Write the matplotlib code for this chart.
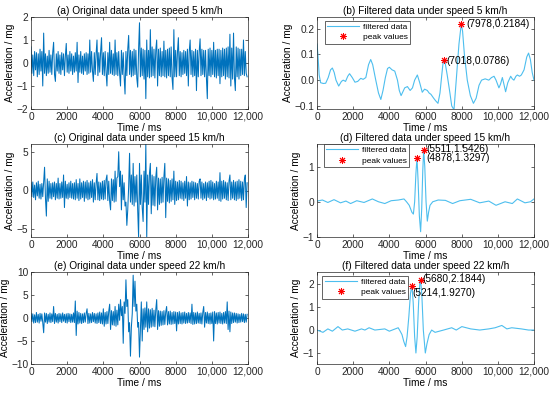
import matplotlib
matplotlib.use("Agg")
import matplotlib.pyplot as plt
import numpy as np

plt.rcParams["font.family"] = ["Liberation Sans", "DejaVu Sans"]
plt.rcParams["font.size"] = 7.3
plt.rcParams["axes.unicode_minus"] = True

# ---- raw signals, one value every 50 ms ----
raw_step_ms = 50

raw_5 = [
    0.7, -0.45, 0.35, -0.55, 0.5, -0.3, 0.45, -0.6, 0.4, -0.5, 0.6, -0.35, 0.5, -1.0, 1.3, -0.45,
    0.4, -0.55, 0.3, -0.45, 0.55, -0.4, 0.35, -0.5, 0.45, 0.9, -0.5, -0.8, 0.4, -0.35, 0.5, -0.45,
    0.35, -0.5, 0.45, -0.3, 0.4, -0.55, 0.3, 0.85, -0.4, 0.35, -0.45, 0.5, -0.35, 0.4, -0.5, 0.3,
    -0.4, 0.45, -0.35, 0.9, -0.85, 0.35, -0.4, 0.5, -0.45, 0.3, -0.5, 0.4, -0.35, 0.45, -0.5, 0.4,
    -0.45, 1.0, -0.4, 0.5, -0.35, -0.8, 0.45, -0.5, 0.4, 1.0, -0.55, 0.45, -0.4, 0.5, 1.1, -0.5,
    0.45, -0.55, 0.5, -0.4, -1.0, 0.45, -0.5, 0.9, -0.45, 0.55, -0.5, 0.4, -0.55, 1.0, -0.5, 0.45,
    -0.55, 0.5, -0.45, -1.0, 0.55, -0.5, 0.45, -0.6, -1.35, 0.5, -0.55, 0.6, 1.2, -0.5, 0.55, -0.6,
    0.5, -0.55, 0.6, -0.5, 0.55, -0.65, -1.05, 0.6, 1.75, -0.6, 0.65, -0.55, 0.6, -0.7, 0.55, -1.55,
    1.0, -0.6, 0.55, -0.65, 1.45, -0.6, 0.7, -0.55, 0.6, -0.65, 0.55, 1.0, -1.0, 0.6, -0.55, 0.65,
    -0.6, 0.5, -0.55, 0.95, -0.6, 0.55, -0.65, 0.6, -0.55, 0.65, -0.6, 0.7, -0.65, -1.15, 1.45, -0.6,
    0.55, -0.6, 0.5, 1.1, -0.55, 0.5, -0.6, 0.45, -0.5, 0.55, -0.45, 0.5, -0.55, 0.6, -1.0, 0.5,
    1.0, -0.5, 0.55, -0.6, 0.5, -0.55, 0.6, -1.2, 0.55, -0.6, 0.5, 1.05, -0.55, 0.6, -0.5, 0.55,
    -0.6, 0.55, -0.65, -1.55, 0.6, -0.55, 0.65, -0.6, 0.55, -0.5, 0.9, -0.6, 0.55, -0.65, 0.6, -0.55,
    0.6, -0.9, 0.55, -0.6, 0.65, -0.55, 0.6, -0.7, 0.65, -0.6, 0.7, -0.65, 1.25, -1.0, 0.65, -0.7,
    1.3, -0.65, -1.2, 0.7, -0.6, 0.65, -0.7, 0.6, -0.55, 0.6, -0.5, 1.0, -0.55, 0.5, -0.45, -0.6,
]

raw_15 = [
    1.0, -0.8, 1.1, -0.9, 0.7, -1.2, 1.0, -0.7, 1.2, -1.0, 0.8, -1.1, 0.9, -0.8, 1.1, 3.0,
    -1.0, -3.3, 1.5, -1.4, 1.2, -1.0, 0.9, -1.1, 1.0, -0.8, 1.1, -1.2, 0.9, -1.0, 1.6, -1.1,
    0.9, -1.0, 1.1, -0.9, 2.0, -2.2, 1.2, -1.0, 0.8, -1.1, 1.0, -0.9, 1.2, -1.0, 0.9, -1.1,
    1.0, -1.2, 1.4, -1.0, 0.9, -1.3, 1.5, -1.1, 1.0, -0.9, 1.2, -1.4, 1.1, -1.0, 1.3, -1.2,
    1.0, -1.1, 1.2, -0.9, 1.4, -1.5, 1.0, -1.2, 0.9, 2.2, -1.2, 1.1, -1.3, 1.0, -1.1, 1.2,
    -1.2, 1.3, -1.1, 1.4, 2.0, -1.3, 1.2, -1.4, -2.5, 1.5, -1.3, 1.4, -1.5, 2.5, -1.4, 1.6,
    1.8, 5.0, 0.5, 2.5, -2.5, 2.0, -1.2, 1.0, -2.0, -1.5, -4.5, -2.5, 0.5, 4.8, -1.5, 2.0,
    -1.8, 3.5, -2.0, 1.8, -1.5, 2.0, -2.5, -6.0, 3.5, -1.8, 2.0, -2.2, -4.0, 2.5, -1.5, 6.0,
    -6.0, 2.0, -1.8, 2.2, 3.5, -3.0, 2.0, -1.9, 1.8, -2.0, 1.7, 3.0, -2.5, 1.6, -1.8, 1.5,
    -1.6, 1.7, -1.5, 1.8, 3.5, -3.5, 1.6, -1.4, 1.5, -1.6, 1.3, -1.4, 1.5, -1.2, 2.5, -1.8,
    1.2, -1.3, 1.1, -1.2, 1.3, -1.0, 1.2, -1.1, 1.0, -1.3, 1.2, -1.0, 1.8, -2.0, 1.1, -1.2,
    1.0, -1.1, 1.2, -0.9, 1.1, -1.2, 1.0, -1.0, 0.9, -1.1, 1.2, 1.5, -1.0, 1.1, -1.2, 0.9,
    -1.0, 1.1, -1.3, 1.0, -0.9, 1.2, -1.1, 1.3, -1.0, 1.1, -1.2, 0.9, -1.1, 1.2, -1.0, 1.1,
    -1.3, 2.3, -1.4, 1.2, -1.1, 1.3, -1.0, 1.1, -1.2, 1.0, -1.3, 1.2, 2.0, -1.2, 1.1, -1.0,
    1.3, -1.2, 1.1, -1.3, 1.2, -1.1, 1.4, -1.0, 1.2, -1.3, 1.1, -1.2, 1.4, 2.0, -2.2, 1.0,
]

raw_22 = [
    1.0, -0.8, 0.9, -1.1, 0.7, -1.0, 1.2, -0.9, 0.8, -1.1, 1.0, -0.7, 0.9, -1.0, -3.2, 1.1,
    -0.9, 1.0, -1.2, 0.8, -0.9, 1.1, -1.0, 0.9, -0.8, 2.5, -1.2, 1.0, -0.9, 0.8, -1.1, 1.0,
    -0.8, 0.9, -1.0, 1.1, -0.7, 0.8, -1.0, 0.9, -1.1, 1.0, -0.8, 0.9, -1.0, 0.8, -0.9, 1.1,
    -1.0, 3.7, -3.8, 1.5, -1.3, 1.2, -1.1, 1.0, -1.2, 0.9, -1.0, 1.1, -0.9, 1.0, 2.0, -1.2,
    1.0, -1.1, 0.9, -1.0, 1.2, -0.8, 1.0, -1.1, 0.9, -1.2, 1.1, -1.0, 1.3, -1.2, 1.1, -1.3,
    2.0, -1.8, 1.2, -1.3, 1.4, -1.2, 1.5, 3.0, -2.5, 1.6, -1.5, 1.4, -1.6, 2.5, -1.8, 1.7,
    -1.5, 3.0, -0.5, 4.0, 0.5, 2.5, -5.5, 3.5, 1.0, 8.3, 2.5, 4.0, -3.0, -1.0, -8.3, -2.0,
    1.0, 9.3, 2.5, 8.0, 1.5, 3.0, -2.0, -1.0, -8.5, -2.5, 3.5, -5.0, 2.0, -2.5, 2.2, -2.0,
    3.5, -3.0, 2.0, -2.2, 1.8, -2.0, 2.1, -1.8, 1.7, -1.9, 1.8, 4.0, -2.5, 1.6, -1.8, 1.5,
    -1.6, 1.4, -1.5, 1.6, -1.4, 1.3, 2.5, -1.5, 1.4, -1.3, 1.5, -1.4, 1.2, -1.3, 1.4, -1.2,
    1.3, -2.8, 1.2, -1.3, 1.4, -1.2, 1.1, -1.3, 1.2, -1.1, 1.3, -1.2, 1.0, -1.1, 1.2, -1.0,
    1.1, -1.2, 3.0, -1.4, 1.2, -1.3, 1.1, -1.2, 1.3, -1.1, 1.0, -1.2, 1.1, -1.3, 1.2, 2.5,
    -2.0, 1.2, -1.1, 1.3, -1.2, 1.0, -1.3, 1.1, -1.2, 1.3, -5.0, 1.4, -1.2, 1.1, -1.3, 1.2,
    -1.1, 1.3, -1.2, 1.0, -1.3, 1.2, -1.1, 1.4, -1.2, 3.5, -2.5, 1.5, -3.0, 1.3, -1.2, 1.1,
    -1.0, 1.1, -0.9, 1.0, -1.1, 0.9, -1.0, 0.8, -0.9, 1.0, -0.8, 0.9, -1.0, 0.8, -0.9, 0.8,
]

# ---- filtered signals (time in ms, value in mg) ----
filt_5_t = [0, 50, 120, 200, 350, 480, 620, 750, 850, 950, 1050, 1200, 1350, 1450, 1580,
            1700, 1800, 1950, 2100, 2250, 2420, 2550, 2700, 2850, 2970, 3080, 3250, 3400,
            3530, 3650, 3780, 3900, 4000, 4150, 4300, 4450, 4550, 4650, 4750, 4850, 5000,
            5150, 5280, 5400, 5550, 5680, 5820, 5950, 6100, 6200, 6300, 6450, 6560, 6690,
            6800, 6900, 6960, 7018, 7080, 7200, 7350, 7450, 7575, 7700, 7850, 7978, 8050,
            8150, 8310, 8480, 8650, 8800, 8960, 9100, 9300, 9500, 9650, 9790, 9900, 10060,
            10150, 10250, 10350, 10430, 10550, 10710, 10800, 10890, 11000, 11080, 11200,
            11300, 11450, 11600, 11700, 11800, 11900, 12000]
filt_5_v = [0.14, 0.1, 0.02, -0.01, -0.013, -0.012, 0.01, 0.04, 0.047, 0.03, 0.0, -0.023,
            -0.005, 0.0, -0.005, 0.015, 0.025, 0.01, -0.008, -0.005, 0.007, 0.003, 0.01,
            0.06, 0.08, 0.06, 0.0, -0.05, -0.075, -0.04, 0.01, 0.045, 0.05, 0.04, 0.035,
            0.0, -0.04, -0.06, -0.045, -0.03, -0.025, -0.04, -0.03, 0.0, 0.02, -0.01,
            -0.047, -0.035, -0.04, -0.05, -0.055, -0.07, -0.08, -0.09, -0.05, 0.02, 0.06,
            0.0786, 0.07, 0.02, -0.05, -0.1, -0.115, 0.0, 0.14, 0.2184, 0.19, 0.1, 0.0,
            -0.06, -0.09, -0.07, -0.02, 0.0, 0.005, 0.0, 0.01, 0.015, 0.0, -0.03, -0.015,
            0.01, -0.02, -0.045, -0.01, 0.015, 0.005, 0.0, 0.015, 0.02, 0.015, 0.02, 0.04,
            0.09, 0.105, 0.08, 0.03, 0.0]

filt_15_t = [0, 300, 600, 940, 1300, 1600, 1860, 2200, 2600, 3060, 3400, 3750, 4100, 4500,
             4810, 4950, 5100, 5250, 5330, 5400, 5470, 5530, 5590, 5660, 5730, 5790, 5850,
             5900, 5960, 6030, 6100, 6170, 6250, 6400, 6700, 7100, 7500, 7900, 8500, 9000,
             9500, 9900, 10400, 10800, 11080, 11500, 11800, 12000]
filt_15_v = [0.02, 0.05, -0.02, 0.06, -0.03, 0.02, -0.05, 0.03, -0.02, 0.08, 0.0, -0.05,
             0.03, 0.05, 0.08, 0.0, -0.1, -0.3, -0.35, 0.0, 0.8, 1.25, 0.6, -0.4, -0.85,
             -0.2, 0.9, 1.47, 1.0, 0.0, -0.55, -0.3, -0.1, 0.0, 0.05, 0.04, -0.05, 0.03,
             0.07, -0.03, 0.02, -0.1, 0.0, -0.05, 0.08, -0.03, 0.0, 0.08]

filt_22_t = [0, 330, 600, 850, 1160, 1400, 1700, 2100, 2460, 2650, 2880, 3200, 3750, 4000,
             4490, 4600, 4700, 4800, 4900, 4980, 5080, 5170, 5250, 5320, 5400, 5470, 5540,
             5620, 5690, 5730, 5800, 5880, 5990, 6080, 6200, 6340, 6530, 7000, 7450, 7700,
             8010, 8500, 9000, 9500, 9850, 10220, 10500, 10770, 11300, 11700, 12000]
filt_22_v = [0.0, -0.1, 0.05, -0.05, 0.15, 0.0, 0.05, -0.05, 0.05, 0.0, 0.1, 0.0, 0.05,
             -0.05, 0.1, -0.05, -0.2, -0.5, -0.72, -0.3, 0.6, 1.6, 1.93, 1.2, -0.3, -1.0,
             -0.3, 1.2, 2.1, 2.18, 1.5, 0.0, -1.0, -0.6, -0.2, 0.0, -0.1, 0.0, 0.1, 0.0,
             0.15, 0.05, 0.0, 0.05, 0.1, 0.2, 0.05, 0.1, 0.05, 0.0, 0.0]

# peaks: positions as drawn, labels as printed
peaks_5_t = [7018, 7978]
peaks_5_v = [0.0786, 0.2184]
peaks_5_lbl = ["(7018,0.0786)", "(7978,0.2184)"]
peaks_15_t = [5530, 5900]
peaks_15_v = [1.25, 1.47]
peaks_15_lbl = ["(4878,1.3297)", "(5511,1.5426)"]
peaks_22_t = [5250, 5730]
peaks_22_v = [1.93, 2.18]
peaks_22_lbl = ["(5214,1.9270)", "(5680,2.1844)"]

x_ticks = [0, 2000, 4000, 6000, 8000, 10000, 12000]
x_tick_labels = ["0", "2000", "4000", "6000", "8000", "10,000", "12,000"]

RAW_COLOR = "#0072BD"
FILT_COLOR = "#4DBEEE"

fig = plt.figure(figsize=(5.5, 3.96), dpi=100)
W, H = 550.0, 396.0


def make_ax(x0, y0, x1, y1):
    return fig.add_axes([x0 / W, 1 - y1 / H, (x1 - x0) / W, (y1 - y0) / H])


def style(ax, ylim, yticks, title):
    ax.set_xlim(0, 12000)
    ax.set_ylim(*ylim)
    ax.set_xticks(x_ticks)
    ax.set_xticklabels(x_tick_labels)
    ax.set_yticks(yticks)
    ax.tick_params(direction="in", length=2, width=0.5, top=True, right=True,
                   labelsize=7.3, pad=2, colors="#262626")
    for s in ax.spines.values():
        s.set_linewidth(0.5)
        s.set_color("#262626")
    ax.set_title(title, fontsize=7.3, pad=2)
    ax.set_xlabel("Time / ms", labelpad=1)
    ax.set_ylabel("Acceleration / mg", labelpad=1)


rows = [(17, 109), (144, 237), (272, 364)]
left_cols = (31, 248)
right_cols = (317, 534)

raw_sets = [
    (raw_5, (-2, 2), [-2, -1, 0, 1, 2], "(a) Original data under speed 5 km/h"),
    (raw_15, (-6, 6), [-5, 0, 5], "(c) Original data under speed 15 km/h"),
    (raw_22, (-10, 10), [-10, -5, 0, 5, 10], "(e) Original data under speed 22 km/h"),
]
filt_sets = [
    (filt_5_t, filt_5_v, peaks_5_t, peaks_5_v, peaks_5_lbl, (-0.112, 0.245),
     [-0.1, 0, 0.1, 0.2], "(b) Filtered data under speed 5 km/h",
     [(2, -1), (4, 0)], (0.035, 0.96)),
    (filt_15_t, filt_15_v, peaks_15_t, peaks_15_v, peaks_15_lbl, (-1.0, 1.64),
     [-1, 0, 1], "(d) Filtered data under speed 15 km/h",
     [(7, 0), (2, 1)], (0.03, 1.0)),
    (filt_22_t, filt_22_v, peaks_22_t, peaks_22_v, peaks_22_lbl, (-1.48, 2.53),
     [-1, 0, 1, 2], "(f) Filtered data under speed 22 km/h",
     [(0, -5), (1, 1)], (0.025, 0.96)),
]

for (y0, y1), (vals, ylim, yt, title) in zip(rows, raw_sets):
    ax = make_ax(left_cols[0], y0, left_cols[1], y1)
    t = np.arange(len(vals)) * raw_step_ms
    ax.plot(t, vals, color=RAW_COLOR, linewidth=0.75)
    style(ax, ylim, yt, title)

for (y0, y1), (ft, fv, pt, pv, lbl, ylim, yt, title, offs, lpos) in zip(rows, filt_sets):
    ax = make_ax(right_cols[0], y0, right_cols[1], y1)
    ax.plot(ft, fv, color=FILT_COLOR, linewidth=0.8, label="filtered data")
    ax.plot(pt, pv, linestyle="none", marker=(8, 2, 0), color="red", markersize=5,
            markeredgewidth=0.7, label="peak values")
    for x, y, s, (dx, dy) in zip(pt, pv, lbl, offs):
        ax.annotate(s, (x, y), xytext=(dx, dy), textcoords="offset points",
                    ha="left", va="center", fontsize=7.3)
    style(ax, ylim, yt, title)
    leg = ax.legend(loc="upper left", bbox_to_anchor=lpos, fontsize=6,
                    frameon=True, fancybox=False, framealpha=1, edgecolor="#262626",
                    handlelength=3.8, borderpad=0.3, labelspacing=0.3,
                    handletextpad=0.5, borderaxespad=0)
    leg.get_frame().set_linewidth(0.5)

fig.savefig("out.png", dpi=100)
